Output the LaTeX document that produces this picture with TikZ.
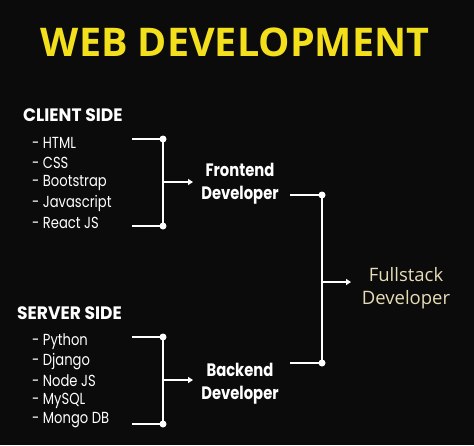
\documentclass[tikz,border=0pt]{standalone}
\usepackage{fontspec}
\setmainfont{Poppins}[FakeStretch=0.82]
\newfontfamily\headfont{Poppins}[FakeStretch=0.95]
\newfontfamily\titlefont{Open Sans}
\usetikzlibrary{arrows.meta}
\definecolor{bgcol}{HTML}{0B0B0B}
\definecolor{titlecol}{HTML}{F3DF1C}
\definecolor{fullcol}{HTML}{E6DCB6}

\begin{document}
\begin{tikzpicture}[x=1pt, y=-1pt,
		item/.style={anchor=west, text=white, font=\fontsize{16}{18}\selectfont, inner sep=0pt},
		head/.style={anchor=west, text=white, font=\headfont\fontsize{18}{20}\selectfont\bfseries, inner sep=0pt},
		role/.style={align=center, text=white, font=\fontsize{18}{23}\selectfont\bfseries, inner sep=0pt},
		wire/.style={white, line width=1.8pt},
		dot/.style={fill=white, draw=none}]
			%%%%% START %%%%%
			
			\fill[bgcol] (0, 0) rectangle (474, 445);
			
			\node[text=titlecol, font=\titlefont\fontsize{39.5}{44}\selectfont\bfseries] (title) at (235, 42) {WEB DEVELOPMENT};
			
			% client side
			\node[head] (client) at (23, 115) {CLIENT SIDE};
			\foreach \lbl [count=\i from 0] in {HTML, CSS, Bootstrap, Javascript, React JS}
				\node[item] (c\i) at (32, 143+20*\i) {- \lbl};
			
			% server side
			\node[head] (server) at (17, 313) {SERVER SIDE};
			\foreach \lbl [count=\i from 0] in {Python, Django, Node JS, MySQL, Mongo DB}
				\node[item] (s\i) at (32, 342+19.5*\i) {- \lbl};
			
			\node[role] (front) at (240, 184) {Frontend\\Developer};
			\node[role] (back) at (240, 384) {Backend\\Developer};
			\node[align=center, text=fullcol, font=\titlefont\fontsize{18.5}{23}\selectfont, inner sep=0pt] (full) at (406, 288) {Fullstack\\Developer};
			
			% brackets
			\coordinate (ctop) at (163, 139);
			\coordinate (cbot) at (163, 226);
			\coordinate (stop) at (163, 337);
			\coordinate (sbot) at (163, 424);
			\coordinate (ftop) at (322, 195);
			\coordinate (fbot) at (322, 363);
			\coordinate (cin) at (193, 182);
			\coordinate (sin) at (193, 380);
			\coordinate (fin) at (351, 282);
			
			\draw[wire] (132, 139) -- (ctop) -- (cbot) -- (132, 226);
			\draw[wire] (132, 337) -- (stop) -- (sbot) -- (132, 424);
			\draw[wire] (290, 195) -- (ftop) -- (fbot) -- (290, 363);
			
			\draw[wire, -{Triangle[width=6pt, length=5pt]}] (ctop |- cin) -- (cin);
			\draw[wire, -{Triangle[width=6pt, length=5pt]}] (stop |- sin) -- (sin);
			\draw[wire, -{Triangle[width=6pt, length=5pt]}] (ftop |- fin) -- (fin);
			
			\foreach \p in {ctop, cbot, stop, sbot, ftop, fbot}
				\fill[dot] (\p) circle (3.5);
			
			%%%%% END %%%%%
		\end{tikzpicture}
\end{document}
